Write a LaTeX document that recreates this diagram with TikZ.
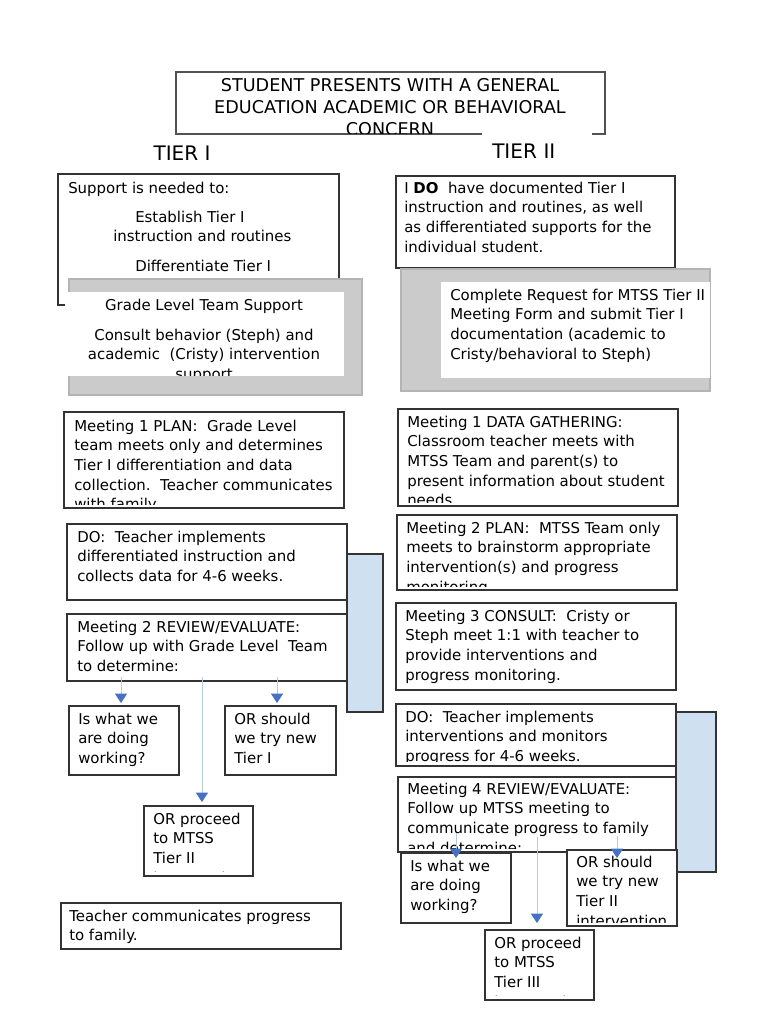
\documentclass[tikz,border=0pt]{standalone}
\usepackage{fontspec}
\setmainfont{DejaVu Sans}
\usetikzlibrary{arrows.meta,calc}
\definecolor{bc}{HTML}{333333}
\definecolor{gfill}{HTML}{CBCBCB}
\definecolor{gdraw}{HTML}{B4B4B4}
\definecolor{bluefill}{HTML}{CFE0F1}
\definecolor{arrblue}{HTML}{4472C4}
\definecolor{arrline}{HTML}{B8C9E0}
\newcommand\ft{\fontsize{11.2pt}{14.8pt}\selectfont}
\newcommand\Tx[1]{\parbox[t]{8cm}{\ft\raggedright #1}}
\tikzset{
  bx/.style 2 args={draw=bc, line width=1pt, fill=white, inner sep=0pt, outer sep=0pt,
    anchor=north west, minimum width=#1*0.75pt, minimum height=#2*0.75pt},
  grayout/.style 2 args={draw=gdraw, line width=0.8pt, fill=gfill, inner sep=0pt, outer sep=0pt,
    anchor=north west, minimum width=#1*0.75pt, minimum height=#2*0.75pt},
  whitein/.style 2 args={fill=white, inner sep=0pt, outer sep=0pt,
    anchor=north west, minimum width=#1*0.75pt, minimum height=#2*0.75pt},
  bluebar/.style 2 args={draw=bc, line width=1pt, fill=bluefill, inner sep=0pt, outer sep=0pt,
    anchor=north west, minimum width=#1*0.75pt, minimum height=#2*0.75pt},
  tx/.style={anchor=base west, inner sep=0pt},
  arr/.style={draw=arrline, line width=0.6pt, -{Triangle[width=9pt,length=7pt,color=arrblue]}},
}
\begin{document}
\begin{tikzpicture}[x=0.75pt,y=-0.75pt]
\useasboundingbox[fill=white] (0,0) rectangle (768,1024);

% ---------- title ----------
\node[bx={429}{62}, draw=bc!85] (title) at (176,72) {};
\begin{scope}
\clip (176,72) rectangle (605,133);
\node[anchor=base, inner sep=0pt] (titletxt) at (390,92)
  {\parbox[t]{330pt}{\centering\fontsize{13.2pt}{16.4pt}\selectfont
   STUDENT PRESENTS WITH A GENERAL\\EDUCATION ACADEMIC OR BEHAVIORAL\\CONCERN}};
\end{scope}
\node[anchor=base, inner sep=0pt, font=\fontsize{15pt}{18pt}\selectfont] (tier1) at (182,160) {TIER I};
\node[anchor=base west, fill=white, inner xsep=0pt, inner ysep=10pt, text width=82.5pt,
      font=\fontsize{15pt}{18pt}\selectfont] (tier2) at (482,158) {\hspace*{7.5pt}TIER II};

% ---------- Tier I support ----------
\node[bx={281}{131}] (support) at (58,174) {};
\node[tx] (sup1) at (68,193) {\ft Support is needed to:};
\node[tx] (sup2) at (135,222) {\ft Establish Tier I};
\node[tx] (sup3) at (113,241) {\ft instruction and routines};
\node[tx] (sup4) at (135,271) {\ft Differentiate Tier I};

\node[grayout={293}{116}] (grayL) at (69,279) {};
\node[whitein={279}{84}] (whiteL) at (65,292) {};
\begin{scope}
\clip (65,292) rectangle (344,375);
\node[anchor=base, inner sep=0pt] (grade1) at (204,310) {\ft Grade Level Team Support};
\node[anchor=base, inner sep=0pt] (grade2) at (204,340)
  {\parbox[t]{200pt}{\centering\ft Consult behavior (Steph) and\\academic~~(Cristy) intervention\\support}};
\end{scope}

% ---------- Tier II top ----------
\node[bx={279}{92}] (ido) at (396,176) {};
\node[tx] (idotxt) at (404,193)
  {\Tx{I \textbf{DO}~~have documented Tier I\\instruction and routines, as well\\as differentiated supports for the\\individual student.}};

\node[grayout={309}{122}] (grayR) at (401,269) {};
\node[whitein={269}{96}] (whiteR) at (441,282) {};
\node[tx] (reqtxt) at (450,300)
  {\Tx{Complete Request for MTSS Tier II\\Meeting Form and submit Tier I\\documentation (academic to\\Cristy/behavioral to Steph)}};

% ---------- blue bars ----------
\node[bluebar={36}{158}] (barL) at (347,554) {};
\node[bluebar={40}{160}] (barR) at (676,712) {};

% ---------- Tier I column ----------
\node[bx={280}{96}] (m1L) at (64,412) {};
\begin{scope}
\clip (64,412) rectangle (344,504);
\node[tx] (m1Ltxt) at (74,431)
  {\Tx{Meeting 1 PLAN:~~Grade Level\\team meets only and determines\\Tier I differentiation and data\\collection.~~Teacher communicates\\with family.}};
\end{scope}

\node[bx={280}{76}] (doL) at (67,524) {};
\node[tx] (doLtxt) at (77,542)
  {\Tx{DO:~~Teacher implements\\differentiated instruction and\\collects data for 4-6 weeks.}};

\node[bx={280}{67}] (m2L) at (67,614) {};
\node[tx] (m2Ltxt) at (77,632)
  {\Tx{Meeting 2 REVIEW/EVALUATE:\\Follow up with Grade Level~~Team\\to determine:}};

\node[bx={110}{69}] (iwL) at (69,706) {};
\node[tx] (iwLtxt) at (78,724) {\Tx{Is what we\\are doing\\working?}};

\node[bx={111}{69}] (osL) at (225,706) {};
\node[tx] (osLtxt) at (234,724) {\Tx{OR should\\we try new\\Tier I}};

\node[bx={109}{70}] (opL) at (144,806) {};
\begin{scope}
\clip (144,806) rectangle (253,871);
\node[tx] (opLtxt) at (153,824) {\Tx{OR proceed\\to MTSS\\Tier II\\intervention}};
\end{scope}

\node[bx={280}{46}] (famL) at (61,903) {};
\node[tx] (famLtxt) at (69,921) {\Tx{Teacher communicates progress\\to family.}};

% ---------- Tier II column ----------
\node[bx={280}{97}] (m1R) at (398,409) {};
\begin{scope}
\clip (398,409) rectangle (678,502);
\node[tx] (m1Rtxt) at (407,427)
  {\Tx{Meeting 1 DATA GATHERING:\\Classroom teacher meets with\\MTSS Team and parent(s) to\\present information about student\\needs.}};
\end{scope}

\node[bx={280}{75}] (m2R) at (397,515) {};
\begin{scope}
\clip (397,515) rectangle (677,586);
\node[tx] (m2Rtxt) at (406,533)
  {\Tx{Meeting 2 PLAN:~~MTSS Team only\\meets to brainstorm appropriate\\intervention(s) and progress\\monitoring.}};
\end{scope}

\node[bx={280}{87}] (m3R) at (396,603) {};
\node[tx] (m3Rtxt) at (405,621)
  {\Tx{Meeting 3 CONSULT:~~Cristy or\\Steph meet 1:1 with teacher to\\provide interventions and\\progress monitoring.}};

\node[bx={280}{62}] (doR) at (396,704) {};
\begin{scope}
\clip (396,704) rectangle (676,761);
\node[tx] (doRtxt) at (405,722)
  {\Tx{DO:~~Teacher implements\\interventions and monitors\\progress for 4-6 weeks.}};
\end{scope}

\node[bx={278}{75}] (m4R) at (398,777) {};
\begin{scope}
\clip (398,777) rectangle (676,848);
\node[tx] (m4Rtxt) at (407,794)
  {\Tx{Meeting 4 REVIEW/EVALUATE:\\Follow up MTSS meeting to\\communicate progress to family\\and determine:}};
\end{scope}

\node[bx={110}{70}] (iwR) at (401,853) {};
\node[tx] (iwRtxt) at (410,871) {\Tx{Is what we\\are doing\\working?}};

\node[bx={110}{76}] (osR) at (567,850) {};
\begin{scope}
\clip (567,850) rectangle (677,922);
\node[tx] (osRtxt) at (576,867) {\Tx{OR should\\we try new\\Tier II\\intervention}};
\end{scope}

\node[bx={109}{70}] (opR) at (485,930) {};
\begin{scope}
\clip (485,930) rectangle (594,995);
\node[tx] (opRtxt) at (494,948) {\Tx{OR proceed\\to MTSS\\Tier III\\intervention}};
\end{scope}

% ---------- arrows ----------
\draw[arr] ([yshift=3pt]m2L.south -| iwL.north) ++(-2.25pt,0) -- ([xshift=-2.25pt,yshift=2.25pt]iwL.north);
\draw[arr] ([yshift=3pt]m2L.south -| osL.north) ++(-2.6pt,0) -- ([xshift=-2.6pt,yshift=2.25pt]osL.north);
\draw[arr] ([yshift=3pt]m2L.south -| opL.north) ++(2.6pt,0) -- ([xshift=2.6pt,yshift=3pt]opL.north);

\draw[arr] ([yshift=14pt]m4R.south -| iwR.north) -- ([yshift=-3.75pt]iwR.north);
\draw[arr] ([yshift=12pt]m4R.south -| osR.north) ++(-3.75pt,0) -- ([xshift=-3.75pt,yshift=-6pt]osR.north);
\draw[arr] ([yshift=11pt]m4R.south -| opR.north) ++(-1.9pt,0) -- ([xshift=-1.9pt,yshift=5.25pt]opR.north);
\end{tikzpicture}
\end{document}
